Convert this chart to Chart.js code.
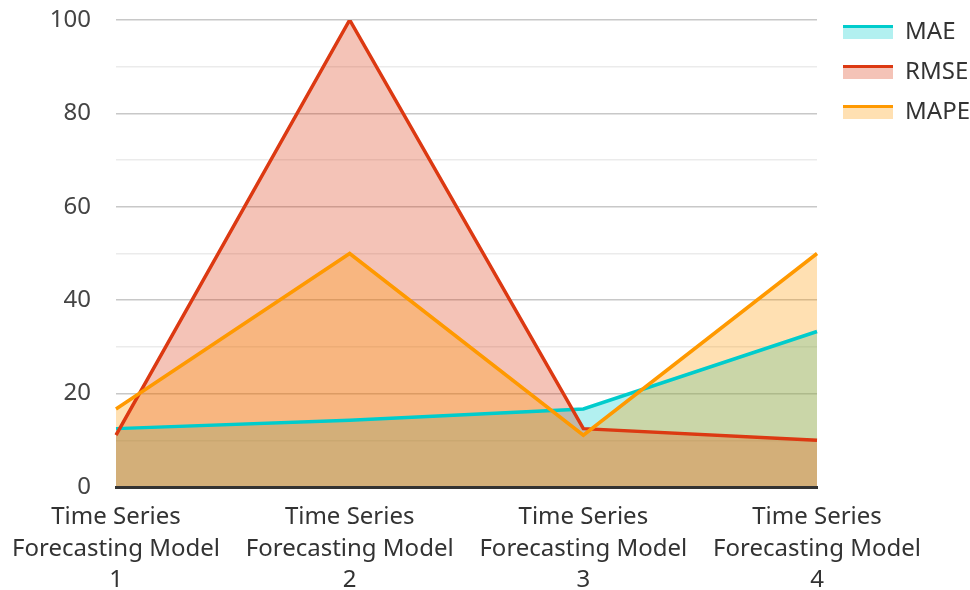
<!DOCTYPE html>
<html>
<head>
<meta charset="utf-8">
<script src="https://cdn.jsdelivr.net/npm/chart.js@4.4.0/dist/chart.umd.min.js"></script>
<style>
html,body{margin:0;padding:0;background:#fff;}
#wrap{width:970px;height:590px;}
</style>
</head>
<body>
<div id="wrap"><canvas id="c"></canvas></div>
<script>
const categories = [
  ["Time Series","Forecasting Model","1"],
  ["Time Series","Forecasting Model","2"],
  ["Time Series","Forecasting Model","3"],
  ["Time Series","Forecasting Model","4"]
];
const seriesNames = ["MAE","RMSE","MAPE"];
const maeValues  = [12.5, 14.3, 16.7, 33.3];
const rmseValues = [11.1, 100, 12.5, 10];
const mapeValues = [16.7, 50, 11.1, 50];
const yTicks = [0, 20, 40, 60, 80, 100];

const lineColors = ["rgb(0,204,204)","rgb(220,57,18)","rgb(255,153,0)"];
const fillColors = ["rgba(0,204,204,0.3)","rgba(220,57,18,0.3)","rgba(255,153,0,0.3)"];

function legendIcon(i){
  const cv = document.createElement('canvas');
  cv.width = 50; cv.height = 26;
  const g = cv.getContext('2d');
  g.fillStyle = fillColors[i];
  g.fillRect(0,6,50,14);
  g.fillStyle = lineColors[i];
  g.fillRect(0,6,50,3);
  return cv;
}
const icons = [0,1,2].map(legendIcon);

const allValues = [maeValues, rmseValues, mapeValues];
const datasets = seriesNames.map((n,i)=>({
  label: n,
  data: allValues[i],
  borderColor: lineColors[i],
  backgroundColor: fillColors[i],
  borderWidth: 3.5,
  fill: 'origin',
  pointRadius: 0,
  pointHoverRadius: 0,
  tension: 0,
  order: 2 - i
}));

const legendShift = {
  id: 'legendShift',
  afterLayout(chart){
    const L = chart.legend;
    if (!L) return;
    L.left += 10; L.right += 10;
    L.top += 4; L.bottom += 4;
  },
  afterDatasetsDraw(chart){
    const x = chart.scales.x;
    if (x && x.drawBorder) x.drawBorder();
  }
};

new Chart(document.getElementById('c'), {
  type: 'line',
  data: { labels: categories, datasets },
  plugins: [legendShift],
  options: {
    responsive: true,
    maintainAspectRatio: false,
    animation: false,
    layout: { padding: { top: 0, right: 0, left: 0, bottom: 0 } },
    plugins: {
      filler: { drawTime: 'beforeDatasetsDraw' },
      tooltip: { enabled: false },
      legend: {
        position: 'right',
        align: 'start',
        labels: {
          usePointStyle: true,
          pointStyleWidth: 50,
          boxHeight: 14,
          padding: 16,
          color: '#333',
          font: { family: 'Noto Sans', size: 24 },
          generateLabels(chart){
            return chart.data.datasets.map((d,i)=>({
              text: d.label,
              pointStyle: icons[i],
              fillStyle: fillColors[i],
              strokeStyle: lineColors[i],
              lineWidth: 0,
              hidden: false,
              datasetIndex: i,
              fontColor: '#333'
            }));
          }
        }
      }
    },
    scales: {
      x: {
        grid: { display: false, drawTicks: false },
        border: { display: true, color: '#333', width: 3 },
        offset: false,
        afterFit(scale){
          scale.height = 103;
          scale.paddingLeft = 116;
          scale.paddingRight = 0;
        },
        ticks: { color: '#333', font: { family: 'Noto Sans', size: 24, lineHeight: 1.3 }, padding: 15, maxRotation: 0, autoSkip: false }
      },
      y: {
        min: 0, max: 100,
        border: { display: false },
        afterFit(scale){
          scale.paddingTop = 20;
          scale.paddingBottom = 0;
        },
        grid: {
          drawTicks: false,
          color: ctx => (ctx.tick && ctx.tick.value % 20 === 0) ? '#c8c8c8' : '#ebebeb',
          lineWidth: 1.5
        },
        ticks: {
          stepSize: 10,
          color: '#444',
          padding: 25,
          font: { family: 'Noto Sans', size: 24 },
          callback: v => yTicks.includes(v) ? String(v) : ''
        }
      }
    }
  }
});
</script>
</body>
</html>
